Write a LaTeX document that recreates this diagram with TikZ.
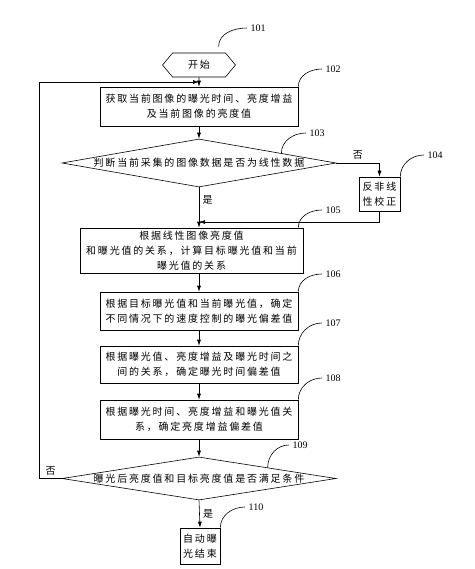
\documentclass[tikz,border=0pt]{standalone}
\usepackage{fontspec}
\setmainfont{Liberation Serif}
\newfontfamily\cjk{Noto Sans CJK SC}[LetterSpace=18]
\usetikzlibrary{shapes.geometric,shapes.symbols,arrows.meta,calc}

\tikzset{
  cjktext/.style={font=\cjk\fontsize{10}{15}\selectfont},
  stepbox/.style={draw, rectangle, cjktext, align=center, inner sep=1pt,
    minimum width=198pt, minimum height=38pt},
  decision/.style={draw, diamond, inner sep=0pt, minimum width=274pt},
  arrow/.style={-{Latex[length=6pt,width=4pt]}},
  tag/.style={font=\fontsize{10}{12}\selectfont},
}

\begin{document}
\begin{tikzpicture}[x=1pt,y=-1pt,line width=0.6pt]
\useasboundingbox (0,0) rectangle (474,569);

% Steps
\node[draw, signal, signal to=east and west, signal pointer angle=100,
  minimum width=73pt, minimum height=24pt, inner sep=0pt, cjktext] (start) at (199,65) {开始};
\node[stepbox, minimum height=39pt] (b102) at (199,106.5) {获取当前图像的曝光时间、亮度增益\\及当前图像的亮度值};
\node[decision, minimum height=48pt, label={[cjktext]center:判断当前采集的图像数据是否为线性数据}] (d103) at (199,163) {};
\node[stepbox, minimum width=41pt, minimum height=34pt] (b104) at (379.5,194) {反非线\\性校正};
\node[stepbox, minimum width=223pt, minimum height=45pt] (b105) at (191.5,250.5) {根据线性图像亮度值\\和曝光值的关系，计算目标曝光值和当前\\曝光值的关系};
\node[stepbox] (b106) at (199,311) {根据目标曝光值和当前曝光值，确定\\不同情况下的速度控制的曝光偏差值};
\node[stepbox, minimum height=37pt] (b107) at (199,364.5) {根据曝光值、亮度增益及曝光时间之\\间的关系，确定曝光时间偏差值};
\node[stepbox, minimum height=39pt] (b108) at (199,419.5) {根据曝光时间、亮度增益和曝光值关\\系，确定亮度增益偏差值};
\node[decision, minimum height=43pt, label={[cjktext]center:曝光后亮度值和目标亮度值是否满足条件}] (d109) at (199,478.5) {};
\node[stepbox, minimum width=40pt, minimum height=36pt] (b110) at (200,546) {自动曝\\光结束};

\coordinate (join) at (199,82);
\coordinate (merge) at (199,222);

% Connectors
\draw[arrow] (start) -- (b102);
\draw[arrow] (b102) -- (d103);
\draw[arrow] (d103.east) -| node[pos=0.25, above, cjktext] {否} (b104.north);
\draw[arrow] (b104) |- (merge);
\draw[arrow] (d103.south) -- node[pos=0.3, right, cjktext] {是} (d103.south |- b105.north);
\draw[arrow] (b105.south -| b106.north) -- (b106.north);
\draw[arrow] (b106) -- (b107);
\draw[arrow] (b107) -- (b108);
\draw[arrow] (b108) -- (d109);
\draw[arrow] (d109.south) -- node[right, cjktext] {是} (b110.north);
\draw[arrow] (d109.west) -- node[above, cjktext] {否} ++(-22,0) |- (join);

% Step numbers
\node[tag] (n101) at (258,28) {101};
\node[tag] (n102) at (333,69) {102};
\node[tag] (n103) at (317,133) {103};
\node[tag] (n104) at (435,155) {104};
\node[tag] (n105) at (333,210) {105};
\node[tag] (n106) at (333,274) {106};
\node[tag] (n107) at (333,323) {107};
\node[tag] (n108) at (333,378) {108};
\node[tag] (n109) at (300,445) {109};
\node[tag] (n110) at (256,507) {110};

\draw ([xshift=-7pt,yshift=6pt]start.north east) to[out=90,in=180] (n101.west);
\draw (b102.north east) to[out=90,in=180] (n102.west);
\draw ($(d103.north)!0.6!(d103.east)$) to[out=90,in=180] (n103.west);
\draw (b104.north east) to[out=90,in=180] (n104.west);
\draw ([xshift=-5pt]b105.north east) to[out=90,in=180] (n105.west);
\draw (b106.north east) to[out=90,in=180] (n106.west);
\draw (b107.north east) to[out=90,in=180] (n107.west);
\draw (b108.north east) to[out=90,in=180] (n108.west);
\draw (d109.north east) to[out=90,in=180] (n109.west);
\draw (b110.north east) to[out=90,in=180] (n110.west);
\end{tikzpicture}
\end{document}
